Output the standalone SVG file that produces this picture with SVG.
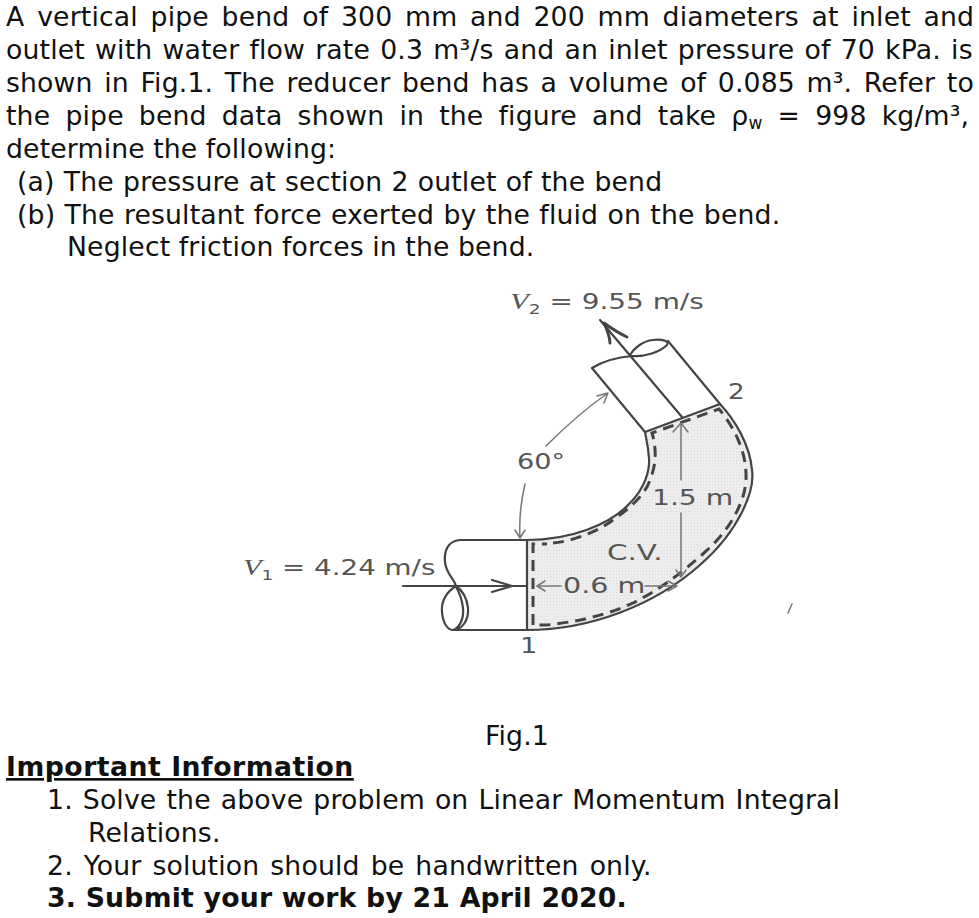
<svg xmlns="http://www.w3.org/2000/svg" width="979" height="918" viewBox="0 0 979 918">
<style>
text{font-family:"DejaVu Sans","Verdana",sans-serif;fill:#111}
.t{font-size:26.7px;letter-spacing:.15px}
.b{font-weight:bold}
.l{font-size:21px;fill:#555}
.v{font-family:"Liberation Serif",serif;font-style:italic;font-size:23px}
.s{font-size:14px}
.p{fill:none;stroke:#444;stroke-width:2.2;stroke-linejoin:round;stroke-linecap:round}
.g{fill:none;stroke:#777;stroke-width:1.5;stroke-linecap:round;stroke-linejoin:round}
.d{fill:none;stroke:#444;stroke-width:3;stroke-dasharray:11 7}
</style>
<defs>
<pattern id="stipple" width="3" height="3" patternUnits="userSpaceOnUse">
<rect width="3" height="3" fill="#ededed"/>
<rect x="1" y="1" width="1" height="1" fill="#dcdcdc"/>
</pattern>
</defs>
<rect width="979" height="918" fill="#fff"/>
<g id="problem">
<text class="t" x="6" y="26" word-spacing="4.1">A vertical pipe bend of 300 mm and 200 mm diameters at inlet and</text>
<text class="t" x="6" y="59" word-spacing="1.55">outlet with water flow rate 0.3 m³/s and an inlet pressure of 70 kPa. is</text>
<text class="t" x="6" y="92" word-spacing="3">shown in Fig.1. The reducer bend has a volume of 0.085 m³. Refer to</text>
<text class="t" x="6" y="125" word-spacing="6.5">the pipe bend data shown in the figure and take ρ<tspan font-size="17" dy="4">w</tspan><tspan dy="-4"> = 998 kg/m³,</tspan></text>
<text class="t" x="6" y="158" word-spacing="-.3">determine the following:</text>
<text class="t" x="17" y="191" word-spacing=".55">(a) The pressure at section 2 outlet of the bend</text>
<text class="t" x="17" y="224" word-spacing=".66">(b) The resultant force exerted by the fluid on the bend.</text>
<text class="t" x="67" y="256" word-spacing="-.25">Neglect friction forces in the bend.</text>
</g>
<g id="bend">
<path d="M527,540C570,540 610,525 630,503C645,488 650,470 649,458C648,445 646,438 645,432L720,404C735,420 750,445 752,470C755,490 740,530 700,565C655,605 590,630 527,630Z" fill="url(#stipple)"/>
<path class="p" d="M527,630C590,630 655,605 700,565C740,530 755,490 752,470C750,445 735,420 720,404"/>
<path class="p" d="M527,540C570,540 610,525 630,503C645,488 650,470 649,458C648,445 646,438 645,432"/>
<path class="p" d="M645,432L720,404M645,432L592,368M720,404L668,341M527,540V630"/>
<path class="p" d="M460,540H527M453,630H527"/>
<path class="p" d="M460,540C447,541 444,552 445,562C446,574 454,578 456,586C446,592 441,602 442,612C443,624 448,630 453,630C462,630 469,620 468,608C467,598 462,590 455,585M453,630C460,628 464,618 463,608C462,598 458,590 455,585"/>
<path class="p" d="M592,368C605,360 620,357 632,356C645,357 660,352 667,345C670,341 662,339 653,340C643,341 634,348 630,355"/>
<path class="d" d="M533,625V544H547M553,543C575,541 600,530 613,520C630,508 645,495 650,480C656,465 657,450 652,433L719,409C735,428 746,452 746,475C747,500 730,530 705,552C680,575 655,592 633,603C605,616 575,622 547,625H533"/>
</g>
<g id="connectors">
<path class="p" d="M403,586H527"/>
<path class="p" stroke-width="2.4" d="M492,580L512,586L492,592"/>
<path class="p" d="M600,320L682,417"/>
<path class="p" style="stroke-width:3" d="M627,337C618,333 611,328 604,323C608,332 610,338 610,343"/>
<path class="g" d="M546,446C565,427 585,409 608,393M597,396L608,393L604,403"/>
<path class="g" d="M525,484C520,505 519,520 520,538M515,530L520,538L525,530"/>
<path class="g" d="M681,423V480M681,513V577M673,432L681,423L688,432M676,570L681,577L686,570"/>
<path class="g" d="M537,586H561M545,581L537,586L545,591M645,586H677M668,581L677,586L668,591"/>
<path class="g" d="M788,613L792,604"/>
</g>
<g id="labels">
<text class="l" transform="translate(510,309) scale(1.33,1)"><tspan class="v">V</tspan><tspan class="s" dy="5">2</tspan><tspan dy="-5"> = 9.55 m/s</tspan></text>
<text class="l" transform="translate(728,399) scale(1.25,1)">2</text>
<text class="l" transform="translate(517,469) scale(1.29,1)">60°</text>
<text class="l" transform="translate(652,505) scale(1.34,1)">1.5 m</text>
<text class="l" transform="translate(607,560) scale(1.4,1)">C.V.</text>
<text class="l" transform="translate(563,593) scale(1.36,1)">0.6 m</text>
<text class="l" transform="translate(243,575) scale(1.32,1)"><tspan class="v">V</tspan><tspan class="s" dy="5">1</tspan><tspan dy="-5"> = 4.24 m/s</tspan></text>
<text class="l" transform="translate(520,653) scale(1.3,1)">1</text>
<text class="t" x="485" y="745">Fig.1</text>
</g>
<g id="info">
<text class="t b" x="6" y="776" text-decoration="underline" style="letter-spacing:.5px">Important Information</text>
<text class="t" x="47" y="809" word-spacing="1.4">1. Solve the above problem on Linear Momentum Integral</text>
<text class="t" x="88" y="842">Relations.</text>
<text class="t" x="47" y="875" word-spacing="2.4">2. Your solution should be handwritten only.</text>
<text class="t b" x="47" y="907" style="letter-spacing:.22px">3. Submit your work by 21 April 2020.</text>
</g>
</svg>
